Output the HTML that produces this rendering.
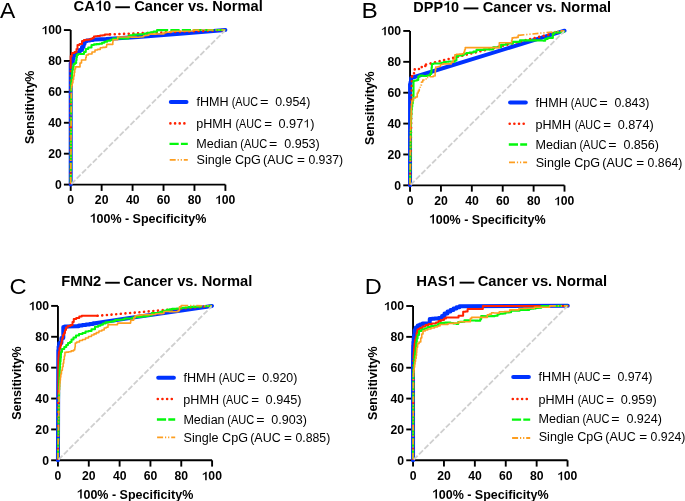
<!DOCTYPE html>
<html><head><meta charset="utf-8"><style>
html,body{margin:0;padding:0;background:#fff;}
svg{display:block;will-change:transform;}
text{font-family:"Liberation Sans", sans-serif;fill:#000;}
</style></head><body>
<svg width="685" height="501" viewBox="0 0 685 501">
<rect width="685" height="501" fill="#fff"/>
<text x="-0.04" y="17.80" font-size="22.0" textLength="15.29" lengthAdjust="spacingAndGlyphs">A</text>
<text x="73.60" y="10.90" font-size="15.0" font-weight="bold" textLength="37.71" lengthAdjust="spacingAndGlyphs">CA 0</text><path d="M855,0L855,1409L690,1409Q620,1290 470,1190Q340,1110 200,1065L200,860Q420,930 605,1075L605,0Z" transform="translate(94.90 10.90) scale(0.00720 -0.00732)"/>
<rect x="115.30" y="6.30" width="14.60" height="1.9" fill="#000"/>
<text x="134.20" y="10.90" font-size="15.0" font-weight="bold" textLength="128.54" lengthAdjust="spacingAndGlyphs">Cancer vs. Normal</text>
<path d="M70.70 30.05 V184.60 H225.40" fill="none" stroke="#000" stroke-width="1.9"/>
<line x1="63.90" y1="184.60" x2="70.70" y2="184.60" stroke="#000" stroke-width="1.9"/>
<line x1="70.70" y1="184.60" x2="70.70" y2="190.90" stroke="#000" stroke-width="1.9"/>
<text x="54.92" y="188.90" font-size="12.2" font-weight="bold" textLength="6.79" lengthAdjust="spacingAndGlyphs">0</text>
<text x="67.32" y="204.00" font-size="12.2" font-weight="bold" textLength="6.79" lengthAdjust="spacingAndGlyphs">0</text>
<line x1="63.90" y1="153.69" x2="70.70" y2="153.69" stroke="#000" stroke-width="1.9"/>
<line x1="101.64" y1="184.60" x2="101.64" y2="190.90" stroke="#000" stroke-width="1.9"/>
<text x="48.13" y="157.99" font-size="12.2" font-weight="bold" textLength="13.57" lengthAdjust="spacingAndGlyphs">20</text>
<text x="94.89" y="204.00" font-size="12.2" font-weight="bold" textLength="13.57" lengthAdjust="spacingAndGlyphs">20</text>
<line x1="63.90" y1="122.78" x2="70.70" y2="122.78" stroke="#000" stroke-width="1.9"/>
<line x1="132.58" y1="184.60" x2="132.58" y2="190.90" stroke="#000" stroke-width="1.9"/>
<text x="48.13" y="127.08" font-size="12.2" font-weight="bold" textLength="13.57" lengthAdjust="spacingAndGlyphs">40</text>
<text x="125.95" y="204.00" font-size="12.2" font-weight="bold" textLength="13.57" lengthAdjust="spacingAndGlyphs">40</text>
<line x1="63.90" y1="91.87" x2="70.70" y2="91.87" stroke="#000" stroke-width="1.9"/>
<line x1="163.52" y1="184.60" x2="163.52" y2="190.90" stroke="#000" stroke-width="1.9"/>
<text x="48.13" y="96.17" font-size="12.2" font-weight="bold" textLength="13.57" lengthAdjust="spacingAndGlyphs">60</text>
<text x="156.76" y="204.00" font-size="12.2" font-weight="bold" textLength="13.57" lengthAdjust="spacingAndGlyphs">60</text>
<line x1="63.90" y1="60.96" x2="70.70" y2="60.96" stroke="#000" stroke-width="1.9"/>
<line x1="194.46" y1="184.60" x2="194.46" y2="190.90" stroke="#000" stroke-width="1.9"/>
<text x="48.13" y="65.26" font-size="12.2" font-weight="bold" textLength="13.57" lengthAdjust="spacingAndGlyphs">80</text>
<text x="187.73" y="204.00" font-size="12.2" font-weight="bold" textLength="13.57" lengthAdjust="spacingAndGlyphs">80</text>
<line x1="63.90" y1="30.05" x2="70.70" y2="30.05" stroke="#000" stroke-width="1.9"/>
<line x1="225.40" y1="184.60" x2="225.40" y2="190.90" stroke="#000" stroke-width="1.9"/>
<text x="41.35" y="34.35" font-size="12.2" font-weight="bold" textLength="20.36" lengthAdjust="spacingAndGlyphs"> 00</text><path d="M855,0L855,1409L690,1409Q620,1290 470,1190Q340,1110 200,1065L200,860Q420,930 605,1075L605,0Z" transform="translate(41.35 34.35) scale(0.00596 -0.00596)"/>
<text x="214.88" y="204.00" font-size="12.2" font-weight="bold" textLength="20.36" lengthAdjust="spacingAndGlyphs"> 00</text><path d="M855,0L855,1409L690,1409Q620,1290 470,1190Q340,1110 200,1065L200,860Q420,930 605,1075L605,0Z" transform="translate(214.88 204.00) scale(0.00596 -0.00596)"/>
<text x="89.53" y="222.80" font-size="13.6" font-weight="bold" textLength="116.75" lengthAdjust="spacingAndGlyphs"> 00% - Specificity%</text><path d="M855,0L855,1409L690,1409Q620,1290 470,1190Q340,1110 200,1065L200,860Q420,930 605,1075L605,0Z" transform="translate(89.53 222.80) scale(0.00611 -0.00664)"/>
<g transform="translate(34.20 107.33) rotate(-90)"><text x="-36.76" y="0.00" font-size="13.4" font-weight="bold" textLength="73.49" lengthAdjust="spacingAndGlyphs">Sensitivity%</text></g>
<polyline points="70.70,184.60 70.70,63.00 71.60,63.00 71.60,62.00 72.50,62.00 72.88,62.00 72.88,58.50 73.62,58.50 73.62,55.00 74.00,55.00 76.00,55.00 76.00,53.00 78.00,53.00 79.50,53.00 79.50,50.00 81.00,50.00 82.00,50.00 82.00,47.00 83.00,47.00 83.50,47.00 83.50,44.00 84.00,44.00 84.50,44.00 84.50,41.20 85.00,41.20 86.67,41.20 86.67,40.60 90.00,40.60 90.00,40.00 93.33,40.00 93.33,39.40 95.00,39.40 106.00,39.10 138.00,36.90 183.00,33.50 225.40,30.00" fill="none" stroke="#0033ff" stroke-width="4.00" stroke-linejoin="round" stroke-linecap="round"/>
<line x1="70.70" y1="183.00" x2="70.70" y2="68.00" stroke="#ff2200" stroke-width="2.60" stroke-linecap="round" stroke-dasharray="0.01 4.65"/>
<polyline points="70.70,68.00 70.70,56.00 71.85,56.00 71.85,53.00 73.00,53.00 74.50,53.00 74.50,52.00 76.00,52.00 76.50,52.00 76.50,49.00 77.00,49.00 77.50,49.00 77.50,45.00 78.00,45.00 79.50,45.00 79.50,44.00 81.00,44.00 82.00,44.00 82.00,41.00 83.00,41.00 84.00,41.00 84.00,40.00 85.00,40.00 86.25,40.00 86.25,39.80 88.75,39.80 88.75,39.60 90.00,39.60 90.75,39.60 90.75,38.80 91.50,38.80 92.50,38.80 92.50,38.00 93.50,38.00 93.90,38.00 93.90,36.50 94.30,36.50 96.00,36.30 97.37,36.30 97.37,35.93 100.10,35.93 100.10,35.57 102.83,35.57 102.83,35.20 104.20,35.20 104.85,35.20 104.85,34.60 105.50,34.60 110.10,34.40" fill="none" stroke="#ff2200" stroke-width="2.00" stroke-linejoin="round" stroke-linecap="round"/>
<line x1="110.10" y1="34.40" x2="225.40" y2="30.00" stroke="#ff2200" stroke-width="2.60" stroke-linecap="round" stroke-dasharray="0.01 4.65"/>
<line x1="70.70" y1="183.00" x2="71.20" y2="84.00" stroke="#04f80c" stroke-width="2.10" stroke-linecap="butt" stroke-dasharray="9.2 2.2"/>
<polyline points="71.20,84.00 71.33,84.00 71.33,81.20 71.59,81.20 71.59,78.40 71.85,78.40 71.85,75.60 72.11,75.60 72.11,72.80 72.37,72.80 72.37,70.00 72.50,70.00 72.88,70.00 72.88,67.00 73.62,67.00 73.62,64.00 74.00,64.00 75.00,64.00 75.00,63.00 76.00,63.00 76.17,63.00 76.17,60.33 76.50,60.33 76.50,57.67 76.83,57.67 76.83,55.00 77.00,55.00 78.00,55.00 78.00,54.00 79.00,54.00 83.00,54.00 84.00,54.00 84.00,52.00 85.00,52.00 85.75,52.00 85.75,49.00 86.50,49.00 88.25,49.00 88.25,47.50 90.00,47.50 91.50,47.50 91.50,45.00 93.00,45.00 94.00,45.00 94.00,44.40 95.00,44.40 96.47,44.40 96.47,44.10 99.43,44.10 99.43,43.80 100.90,43.80 102.05,43.80 102.05,42.80 104.35,42.80 104.35,41.80 105.50,41.80 107.15,41.80 107.15,40.80 110.45,40.80 110.45,39.80 112.10,39.80 113.05,39.80 113.05,38.50 114.00,38.50 127.90,38.50 128.55,38.50 128.55,35.90 129.20,35.90 130.50,35.90 130.50,35.25 133.10,35.25 133.10,34.60 134.40,34.60 135.83,34.60 135.83,34.47 138.70,34.47 138.70,34.33 141.57,34.33 141.57,34.20 143.00,34.20 144.51,34.20 144.51,33.55 147.54,33.55 147.54,32.90 150.56,32.90 150.56,32.25 153.59,32.25 153.59,31.60 155.10,31.60 157.05,31.60 157.05,30.10 159.00,30.10" fill="none" stroke="#04f80c" stroke-width="2.10" stroke-linejoin="round" stroke-linecap="round"/>
<line x1="159.00" y1="30.10" x2="225.40" y2="30.00" stroke="#04f80c" stroke-width="2.10" stroke-linecap="butt" stroke-dasharray="9.2 2.2"/>
<line x1="70.70" y1="183.00" x2="71.40" y2="88.00" stroke="#fd9e20" stroke-width="1.60" stroke-linecap="butt" stroke-dasharray="6 1.9 1.2 1.9 1.2 1.9"/>
<polyline points="71.40,88.00 71.68,88.00 71.68,85.45 72.22,85.45 72.22,82.90 72.50,82.90 72.88,82.90 72.88,79.40 73.62,79.40 73.62,75.90 74.00,75.90 74.25,75.90 74.25,72.40 74.75,72.40 74.75,68.90 75.00,68.90 75.50,68.90 75.50,66.90 76.00,66.90 79.00,66.90 80.00,66.90 80.00,63.00 81.00,63.00 81.50,63.00 81.50,60.00 82.00,60.00 85.50,60.00 85.75,60.00 85.75,57.50 86.25,57.50 86.25,55.00 86.50,55.00 88.25,55.00 88.25,54.00 90.00,54.00 92.00,54.00 92.00,52.00 94.00,52.00 95.00,52.00 95.00,50.00 96.00,50.00 97.50,50.00 97.50,49.40 99.00,49.40 100.30,49.40 100.30,47.70 101.60,47.70 102.82,47.70 102.82,47.40 105.28,47.40 105.28,47.10 106.50,47.10 106.80,44.40 112.70,44.40 112.80,44.40 112.80,42.10 113.00,42.10 113.00,39.80 113.10,39.80 117.30,39.80 117.65,39.80 117.65,36.90 118.00,36.90 119.43,36.90 119.43,36.94 122.29,36.94 122.29,36.99 125.14,36.99 125.14,37.03 128.00,37.03 128.00,37.07 130.86,37.07 130.86,37.11 133.71,37.11 133.71,37.16 136.57,37.16 136.57,37.20 138.00,37.20 139.32,37.20 139.32,37.00 141.98,37.00 141.98,36.80 143.30,36.80 143.60,36.80 143.60,35.80 143.90,35.80 145.05,35.80 145.05,35.50 147.35,35.50 147.35,35.20 148.50,35.20 148.85,35.20 148.85,34.20 149.20,34.20 150.64,34.20 150.64,34.14 153.52,34.14 153.52,34.08 156.40,34.08 156.40,34.02 159.28,34.02 159.28,33.96 162.16,33.96 162.16,33.90 163.60,33.90 163.95,33.90 163.95,32.60 164.30,32.60 166.10,32.60 166.10,32.25 169.70,32.25 169.70,31.90 171.50,31.90 171.85,31.90 171.85,31.20 172.20,31.20 192.60,31.00 192.95,31.00 192.95,30.10 193.30,30.10" fill="none" stroke="#fd9e20" stroke-width="1.60" stroke-linejoin="round" stroke-linecap="round"/>
<line x1="193.30" y1="30.10" x2="225.40" y2="30.00" stroke="#fd9e20" stroke-width="1.60" stroke-linecap="butt" stroke-dasharray="6 1.9 1.2 1.9 1.2 1.9"/>
<line x1="71.30" y1="184.00" x2="224.90" y2="30.55" stroke="#cfcfcf" stroke-width="1.8" stroke-dasharray="5.6 2.0" stroke-linecap="butt"/>
<line x1="170.80" y1="101.90" x2="186.50" y2="101.90" stroke="#0033ff" stroke-width="4" stroke-linecap="round"/>
<line x1="170.40" y1="123.40" x2="185.80" y2="123.40" stroke="#ff2200" stroke-width="2.6" stroke-linecap="round" stroke-dasharray="0.01 4.65"/>
<line x1="169.50" y1="143.85" x2="187.80" y2="143.85" stroke="#04f80c" stroke-width="2.3" stroke-dasharray="9.2 2.2"/>
<line x1="169.70" y1="159.85" x2="187.80" y2="159.85" stroke="#fd9e20" stroke-width="1.9" stroke-dasharray="6 1.9 1.2 1.9 1.2 1.9"/>
<text x="196.42" y="105.80" font-size="12" fill="#1c1c1c" textLength="32.21" lengthAdjust="spacingAndGlyphs">fHMH</text>
<text x="231.63" y="105.80" font-size="12" fill="#1c1c1c" textLength="26.48" lengthAdjust="spacingAndGlyphs">(AUC</text>
<text x="260.09" y="105.80" font-size="12" fill="#1c1c1c" textLength="8.53" lengthAdjust="spacingAndGlyphs">=</text>
<text x="275.22" y="105.80" font-size="12" fill="#1c1c1c" textLength="35.05" lengthAdjust="spacingAndGlyphs">0.954)</text>
<text x="196.29" y="127.60" font-size="12" fill="#1c1c1c" textLength="35.64" lengthAdjust="spacingAndGlyphs">pHMH</text>
<text x="235.43" y="127.60" font-size="12" fill="#1c1c1c" textLength="26.28" lengthAdjust="spacingAndGlyphs">(AUC</text>
<text x="264.15" y="127.60" font-size="12" fill="#1c1c1c" textLength="7.81" lengthAdjust="spacingAndGlyphs">=</text>
<text x="278.50" y="127.60" font-size="12" fill="#1c1c1c" textLength="35.98" lengthAdjust="spacingAndGlyphs">0.97 )</text><path d="M770,0L770,1409L665,1409Q605,1290 475,1190Q355,1100 220,1050L220,880Q420,960 590,1100L590,0Z" transform="translate(303.20 127.60) scale(0.00620 -0.00586)" fill="#1c1c1c"/>
<text x="196.32" y="147.70" font-size="12" fill="#1c1c1c" textLength="41.20" lengthAdjust="spacingAndGlyphs">Median</text>
<text x="240.21" y="147.70" font-size="12" fill="#1c1c1c" textLength="27.01" lengthAdjust="spacingAndGlyphs">(AUC</text>
<text x="269.11" y="147.70" font-size="12" fill="#1c1c1c" textLength="8.29" lengthAdjust="spacingAndGlyphs">=</text>
<text x="284.21" y="147.70" font-size="12" fill="#1c1c1c" textLength="35.57" lengthAdjust="spacingAndGlyphs">0.953)</text>
<text x="196.53" y="164.00" font-size="12" fill="#1c1c1c" textLength="64.31" lengthAdjust="spacingAndGlyphs">Single CpG</text>
<text x="263.13" y="164.00" font-size="12" fill="#1c1c1c" textLength="30.45" lengthAdjust="spacingAndGlyphs">(AUC</text>
<text x="297.04" y="164.00" font-size="12" fill="#1c1c1c" textLength="7.93" lengthAdjust="spacingAndGlyphs">=</text>
<text x="308.42" y="164.00" font-size="12" fill="#1c1c1c" textLength="34.74" lengthAdjust="spacingAndGlyphs">0.937)</text>
<text x="361.50" y="17.80" font-size="22.0" textLength="16.29" lengthAdjust="spacingAndGlyphs">B</text>
<text x="413.33" y="12.05" font-size="15.0" font-weight="bold" textLength="45.76" lengthAdjust="spacingAndGlyphs">DPP 0</text><path d="M855,0L855,1409L690,1409Q620,1290 470,1190Q340,1110 200,1065L200,860Q420,930 605,1075L605,0Z" transform="translate(443.03 12.05) scale(0.00705 -0.00732)"/>
<rect x="463.60" y="7.45" width="14.80" height="1.9" fill="#000"/>
<text x="482.70" y="12.05" font-size="15.0" font-weight="bold" textLength="128.44" lengthAdjust="spacingAndGlyphs">Cancer vs. Normal</text>
<path d="M410.05 30.95 V185.35 H564.50" fill="none" stroke="#000" stroke-width="1.9"/>
<line x1="403.25" y1="185.35" x2="410.05" y2="185.35" stroke="#000" stroke-width="1.9"/>
<line x1="410.05" y1="185.35" x2="410.05" y2="191.65" stroke="#000" stroke-width="1.9"/>
<text x="394.27" y="189.65" font-size="12.2" font-weight="bold" textLength="6.79" lengthAdjust="spacingAndGlyphs">0</text>
<text x="406.67" y="205.25" font-size="12.2" font-weight="bold" textLength="6.79" lengthAdjust="spacingAndGlyphs">0</text>
<line x1="403.25" y1="154.47" x2="410.05" y2="154.47" stroke="#000" stroke-width="1.9"/>
<line x1="440.94" y1="185.35" x2="440.94" y2="191.65" stroke="#000" stroke-width="1.9"/>
<text x="387.48" y="158.77" font-size="12.2" font-weight="bold" textLength="13.57" lengthAdjust="spacingAndGlyphs">20</text>
<text x="434.19" y="205.25" font-size="12.2" font-weight="bold" textLength="13.57" lengthAdjust="spacingAndGlyphs">20</text>
<line x1="403.25" y1="123.59" x2="410.05" y2="123.59" stroke="#000" stroke-width="1.9"/>
<line x1="471.83" y1="185.35" x2="471.83" y2="191.65" stroke="#000" stroke-width="1.9"/>
<text x="387.48" y="127.89" font-size="12.2" font-weight="bold" textLength="13.57" lengthAdjust="spacingAndGlyphs">40</text>
<text x="465.20" y="205.25" font-size="12.2" font-weight="bold" textLength="13.57" lengthAdjust="spacingAndGlyphs">40</text>
<line x1="403.25" y1="92.71" x2="410.05" y2="92.71" stroke="#000" stroke-width="1.9"/>
<line x1="502.72" y1="185.35" x2="502.72" y2="191.65" stroke="#000" stroke-width="1.9"/>
<text x="387.48" y="97.01" font-size="12.2" font-weight="bold" textLength="13.57" lengthAdjust="spacingAndGlyphs">60</text>
<text x="495.96" y="205.25" font-size="12.2" font-weight="bold" textLength="13.57" lengthAdjust="spacingAndGlyphs">60</text>
<line x1="403.25" y1="61.83" x2="410.05" y2="61.83" stroke="#000" stroke-width="1.9"/>
<line x1="533.61" y1="185.35" x2="533.61" y2="191.65" stroke="#000" stroke-width="1.9"/>
<text x="387.48" y="66.13" font-size="12.2" font-weight="bold" textLength="13.57" lengthAdjust="spacingAndGlyphs">80</text>
<text x="526.88" y="205.25" font-size="12.2" font-weight="bold" textLength="13.57" lengthAdjust="spacingAndGlyphs">80</text>
<line x1="403.25" y1="30.95" x2="410.05" y2="30.95" stroke="#000" stroke-width="1.9"/>
<line x1="564.50" y1="185.35" x2="564.50" y2="191.65" stroke="#000" stroke-width="1.9"/>
<text x="380.70" y="35.25" font-size="12.2" font-weight="bold" textLength="20.36" lengthAdjust="spacingAndGlyphs"> 00</text><path d="M855,0L855,1409L690,1409Q620,1290 470,1190Q340,1110 200,1065L200,860Q420,930 605,1075L605,0Z" transform="translate(380.70 35.25) scale(0.00596 -0.00596)"/>
<text x="553.98" y="205.25" font-size="12.2" font-weight="bold" textLength="20.36" lengthAdjust="spacingAndGlyphs"> 00</text><path d="M855,0L855,1409L690,1409Q620,1290 470,1190Q340,1110 200,1065L200,860Q420,930 605,1075L605,0Z" transform="translate(553.98 205.25) scale(0.00596 -0.00596)"/>
<text x="428.75" y="223.55" font-size="13.6" font-weight="bold" textLength="116.75" lengthAdjust="spacingAndGlyphs"> 00% - Specificity%</text><path d="M855,0L855,1409L690,1409Q620,1290 470,1190Q340,1110 200,1065L200,860Q420,930 605,1075L605,0Z" transform="translate(428.75 223.55) scale(0.00611 -0.00664)"/>
<g transform="translate(373.55 108.15) rotate(-90)"><text x="-36.76" y="0.00" font-size="13.4" font-weight="bold" textLength="73.49" lengthAdjust="spacingAndGlyphs">Sensitivity%</text></g>
<polyline points="410.05,185.35 410.05,84.00 410.52,84.00 410.52,82.00 411.00,82.00 411.20,78.00 564.50,30.70" fill="none" stroke="#0033ff" stroke-width="4.00" stroke-linejoin="round" stroke-linecap="round"/>
<line x1="410.05" y1="183.75" x2="412.00" y2="76.00" stroke="#ff2200" stroke-width="2.60" stroke-linecap="round" stroke-dasharray="0.01 4.65"/>
<polyline points="412.00,76.00 412.75,76.00 412.75,74.00 413.50,74.00 414.00,74.00 414.00,72.00 414.50,72.00 414.75,72.00 414.75,69.00 415.00,69.00 418.00,69.00 419.50,69.00 419.50,68.00 421.00,68.00 421.75,68.00 421.75,67.00 422.50,67.00 423.75,67.00 423.75,66.00 425.00,66.00 425.50,66.00 425.50,64.50 426.00,64.50" fill="none" stroke="#ff2200" stroke-width="2.60" stroke-linejoin="round" stroke-linecap="round" stroke-dasharray="0.01 4.65"/>
<line x1="426.00" y1="64.50" x2="564.50" y2="30.70" stroke="#ff2200" stroke-width="2.60" stroke-linecap="round" stroke-dasharray="0.01 4.65"/>
<line x1="410.05" y1="183.75" x2="411.00" y2="120.00" stroke="#04f80c" stroke-width="2.10" stroke-linecap="butt" stroke-dasharray="9.2 2.2"/>
<polyline points="411.00,120.00 411.08,120.00 411.08,116.67 411.25,116.67 411.25,113.33 411.42,113.33 411.42,110.00 411.50,110.00 411.75,110.00 411.75,106.75 412.25,106.75 412.25,103.50 412.75,103.50 412.75,100.25 413.25,100.25 413.25,97.00 413.50,97.00 413.50,81.00 414.75,81.00 414.75,80.50 416.00,80.50 417.00,80.50 417.00,80.00 418.00,80.00 418.25,80.00 418.25,76.50 418.50,76.50 419.75,76.50 419.75,75.50 421.00,75.50 423.00,75.50 423.00,76.00 425.00,76.00 427.00,76.00 427.00,75.50 429.00,75.50 430.00,75.50 430.00,74.00 431.00,74.00 431.25,74.00 431.25,71.00 431.50,71.00 431.62,71.00 431.62,67.50 431.88,67.50 431.88,64.00 432.00,64.00 433.50,64.00 433.50,63.50 435.00,63.50 440.00,63.50 441.25,63.50 441.25,62.75 443.75,62.75 443.75,62.00 445.00,62.00 446.25,62.00 446.25,61.75 448.75,61.75 448.75,61.50 450.00,61.50 453.80,61.70 454.65,61.70 454.65,60.40 455.50,60.40 456.40,60.40 456.40,56.00 457.30,56.00 458.60,56.00 458.60,55.55 461.20,55.55 461.20,55.10 462.50,55.10 463.80,55.10 463.80,53.80 465.10,53.80 466.45,53.80 466.45,53.00 467.80,53.00 469.55,53.00 469.55,52.50 471.30,52.50 473.45,52.50 473.45,51.60 475.60,51.60 476.50,51.60 476.50,49.90 477.40,49.90 481.80,49.90 483.55,49.90 483.55,49.40 485.30,49.40 492.30,49.40 493.15,49.40 493.15,47.30 494.00,47.30 500.20,47.30 501.05,47.30 501.05,44.80 501.90,44.80 506.00,44.80 506.00,43.40 511.90,43.40 512.90,43.40 512.90,41.90 513.90,41.90 519.90,41.90 519.90,40.40 539.00,40.40 540.42,40.40 540.42,40.55 543.28,40.55 543.28,40.70 544.70,40.70 545.20,40.70 545.20,38.90 545.70,38.90 547.70,38.90 547.70,37.90 549.70,37.90 552.60,37.90 552.85,37.90 552.85,33.90 553.10,33.90 554.35,33.90 554.35,32.40 555.60,32.40" fill="none" stroke="#04f80c" stroke-width="2.10" stroke-linejoin="round" stroke-linecap="round"/>
<line x1="555.60" y1="32.40" x2="563.60" y2="32.40" stroke="#04f80c" stroke-width="2.10" stroke-linecap="butt" stroke-dasharray="9.2 2.2"/>
<line x1="563.60" y1="32.40" x2="564.50" y2="30.70" stroke="#04f80c" stroke-width="2.10" stroke-linecap="butt" stroke-dasharray="9.2 2.2"/>
<line x1="410.05" y1="183.75" x2="410.60" y2="130.00" stroke="#fd9e20" stroke-width="1.60" stroke-linecap="butt" stroke-dasharray="6 1.9 1.2 1.9 1.2 1.9"/>
<polyline points="410.60,130.00 411.50,105.00 411.75,105.00 411.75,101.00 412.00,101.00 413.00,101.00 413.00,98.00 414.00,98.00 415.50,98.00 415.50,97.00 417.00,97.00 417.25,97.00 417.25,93.00 417.50,93.00" fill="none" stroke="#fd9e20" stroke-width="1.60" stroke-linejoin="round" stroke-linecap="round"/>
<polyline points="417.50,93.00 418.25,93.00 418.25,91.00 419.00,91.00 419.25,91.00 419.25,88.00 419.50,88.00 420.25,88.00 420.25,85.00 421.00,85.00 421.50,85.00 421.50,82.00 422.00,82.00 422.75,82.00 422.75,80.00 423.50,80.00 424.75,80.00 424.75,79.00 426.00,79.00 427.00,79.00 427.00,77.50 428.00,77.50 429.75,77.50 429.75,76.75 433.25,76.75 433.25,76.00 435.00,76.00" fill="none" stroke="#fd9e20" stroke-width="1.60" stroke-linejoin="round" stroke-linecap="butt" stroke-dasharray="6 1.9 1.2 1.9 1.2 1.9"/>
<polyline points="435.00,76.00 435.10,76.00 435.10,73.00 435.30,73.00 435.30,70.00 435.40,70.00 435.70,70.00 435.70,67.00 436.00,67.00 438.00,67.00 438.00,66.50 440.00,66.50 440.50,66.50 440.50,64.50 441.00,64.50 443.00,64.50 443.00,63.90 445.00,63.90 451.00,63.90 451.30,63.90 451.30,62.10 451.60,62.10 453.10,62.10 453.10,59.50 454.60,59.50 454.70,59.50 454.70,57.10 454.90,57.10 454.90,54.70 455.00,54.70 456.40,54.70 456.40,54.40 459.20,54.40 459.20,54.10 462.00,54.10 462.00,53.80 463.40,53.80 463.85,53.80 463.85,52.10 464.30,52.10 464.62,52.10 464.62,49.85 465.28,49.85 465.28,47.60 465.60,47.60 499.30,47.60 499.30,42.80 511.40,42.70 511.65,42.70 511.65,40.30 512.15,40.30 512.15,37.90 512.40,37.90 513.77,37.90 513.77,37.65 516.52,37.65 516.52,37.40 517.90,37.40 518.15,37.40 518.15,35.40 518.40,35.40" fill="none" stroke="#fd9e20" stroke-width="1.60" stroke-linejoin="round" stroke-linecap="round"/>
<line x1="518.40" y1="35.40" x2="564.50" y2="30.70" stroke="#fd9e20" stroke-width="1.60" stroke-linecap="butt" stroke-dasharray="6 1.9 1.2 1.9 1.2 1.9"/>
<line x1="410.65" y1="184.75" x2="564.00" y2="31.45" stroke="#cfcfcf" stroke-width="1.8" stroke-dasharray="5.6 2.0" stroke-linecap="butt"/>
<line x1="510.10" y1="102.50" x2="525.80" y2="102.50" stroke="#0033ff" stroke-width="4" stroke-linecap="round"/>
<line x1="509.70" y1="123.80" x2="525.10" y2="123.80" stroke="#ff2200" stroke-width="2.6" stroke-linecap="round" stroke-dasharray="0.01 4.65"/>
<line x1="508.80" y1="144.50" x2="527.10" y2="144.50" stroke="#04f80c" stroke-width="2.3" stroke-dasharray="9.2 2.2"/>
<line x1="509.00" y1="162.40" x2="527.10" y2="162.40" stroke="#fd9e20" stroke-width="1.9" stroke-dasharray="6 1.9 1.2 1.9 1.2 1.9"/>
<text x="535.62" y="106.60" font-size="12" fill="#1c1c1c" textLength="32.21" lengthAdjust="spacingAndGlyphs">fHMH</text>
<text x="570.83" y="106.60" font-size="12" fill="#1c1c1c" textLength="26.48" lengthAdjust="spacingAndGlyphs">(AUC</text>
<text x="599.29" y="106.60" font-size="12" fill="#1c1c1c" textLength="8.53" lengthAdjust="spacingAndGlyphs">=</text>
<text x="614.42" y="106.60" font-size="12" fill="#1c1c1c" textLength="35.05" lengthAdjust="spacingAndGlyphs">0.843)</text>
<text x="535.49" y="128.50" font-size="12" fill="#1c1c1c" textLength="35.64" lengthAdjust="spacingAndGlyphs">pHMH</text>
<text x="574.63" y="128.50" font-size="12" fill="#1c1c1c" textLength="26.28" lengthAdjust="spacingAndGlyphs">(AUC</text>
<text x="603.35" y="128.50" font-size="12" fill="#1c1c1c" textLength="7.81" lengthAdjust="spacingAndGlyphs">=</text>
<text x="617.70" y="128.50" font-size="12" fill="#1c1c1c" textLength="35.98" lengthAdjust="spacingAndGlyphs">0.874)</text>
<text x="535.52" y="148.90" font-size="12" fill="#1c1c1c" textLength="41.20" lengthAdjust="spacingAndGlyphs">Median</text>
<text x="579.41" y="148.90" font-size="12" fill="#1c1c1c" textLength="27.01" lengthAdjust="spacingAndGlyphs">(AUC</text>
<text x="608.31" y="148.90" font-size="12" fill="#1c1c1c" textLength="8.29" lengthAdjust="spacingAndGlyphs">=</text>
<text x="623.41" y="148.90" font-size="12" fill="#1c1c1c" textLength="35.57" lengthAdjust="spacingAndGlyphs">0.856)</text>
<text x="535.73" y="166.70" font-size="12" fill="#1c1c1c" textLength="64.31" lengthAdjust="spacingAndGlyphs">Single CpG</text>
<text x="602.33" y="166.70" font-size="12" fill="#1c1c1c" textLength="30.45" lengthAdjust="spacingAndGlyphs">(AUC</text>
<text x="636.24" y="166.70" font-size="12" fill="#1c1c1c" textLength="7.93" lengthAdjust="spacingAndGlyphs">=</text>
<text x="647.62" y="166.70" font-size="12" fill="#1c1c1c" textLength="34.74" lengthAdjust="spacingAndGlyphs">0.864)</text>
<text x="9.50" y="294.00" font-size="22.6" textLength="17.10" lengthAdjust="spacingAndGlyphs">C</text>
<text x="61.22" y="286.40" font-size="15.0" font-weight="bold" textLength="39.97" lengthAdjust="spacingAndGlyphs">FMN2</text>
<rect x="105.20" y="281.80" width="14.60" height="1.9" fill="#000"/>
<text x="123.30" y="286.40" font-size="15.0" font-weight="bold" textLength="128.94" lengthAdjust="spacingAndGlyphs">Cancer vs. Normal</text>
<path d="M57.95 305.90 V460.30 H212.10" fill="none" stroke="#000" stroke-width="1.9"/>
<line x1="51.15" y1="460.30" x2="57.95" y2="460.30" stroke="#000" stroke-width="1.9"/>
<line x1="57.95" y1="460.30" x2="57.95" y2="466.60" stroke="#000" stroke-width="1.9"/>
<text x="42.17" y="464.60" font-size="12.2" font-weight="bold" textLength="6.79" lengthAdjust="spacingAndGlyphs">0</text>
<text x="54.57" y="480.20" font-size="12.2" font-weight="bold" textLength="6.79" lengthAdjust="spacingAndGlyphs">0</text>
<line x1="51.15" y1="429.42" x2="57.95" y2="429.42" stroke="#000" stroke-width="1.9"/>
<line x1="88.78" y1="460.30" x2="88.78" y2="466.60" stroke="#000" stroke-width="1.9"/>
<text x="35.38" y="433.72" font-size="12.2" font-weight="bold" textLength="13.57" lengthAdjust="spacingAndGlyphs">20</text>
<text x="82.03" y="480.20" font-size="12.2" font-weight="bold" textLength="13.57" lengthAdjust="spacingAndGlyphs">20</text>
<line x1="51.15" y1="398.54" x2="57.95" y2="398.54" stroke="#000" stroke-width="1.9"/>
<line x1="119.61" y1="460.30" x2="119.61" y2="466.60" stroke="#000" stroke-width="1.9"/>
<text x="35.38" y="402.84" font-size="12.2" font-weight="bold" textLength="13.57" lengthAdjust="spacingAndGlyphs">40</text>
<text x="112.98" y="480.20" font-size="12.2" font-weight="bold" textLength="13.57" lengthAdjust="spacingAndGlyphs">40</text>
<line x1="51.15" y1="367.66" x2="57.95" y2="367.66" stroke="#000" stroke-width="1.9"/>
<line x1="150.44" y1="460.30" x2="150.44" y2="466.60" stroke="#000" stroke-width="1.9"/>
<text x="35.38" y="371.96" font-size="12.2" font-weight="bold" textLength="13.57" lengthAdjust="spacingAndGlyphs">60</text>
<text x="143.68" y="480.20" font-size="12.2" font-weight="bold" textLength="13.57" lengthAdjust="spacingAndGlyphs">60</text>
<line x1="51.15" y1="336.78" x2="57.95" y2="336.78" stroke="#000" stroke-width="1.9"/>
<line x1="181.27" y1="460.30" x2="181.27" y2="466.60" stroke="#000" stroke-width="1.9"/>
<text x="35.38" y="341.08" font-size="12.2" font-weight="bold" textLength="13.57" lengthAdjust="spacingAndGlyphs">80</text>
<text x="174.54" y="480.20" font-size="12.2" font-weight="bold" textLength="13.57" lengthAdjust="spacingAndGlyphs">80</text>
<line x1="51.15" y1="305.90" x2="57.95" y2="305.90" stroke="#000" stroke-width="1.9"/>
<line x1="212.10" y1="460.30" x2="212.10" y2="466.60" stroke="#000" stroke-width="1.9"/>
<text x="28.60" y="310.20" font-size="12.2" font-weight="bold" textLength="20.36" lengthAdjust="spacingAndGlyphs"> 00</text><path d="M855,0L855,1409L690,1409Q620,1290 470,1190Q340,1110 200,1065L200,860Q420,930 605,1075L605,0Z" transform="translate(28.60 310.20) scale(0.00596 -0.00596)"/>
<text x="201.58" y="480.20" font-size="12.2" font-weight="bold" textLength="20.36" lengthAdjust="spacingAndGlyphs"> 00</text><path d="M855,0L855,1409L690,1409Q620,1290 470,1190Q340,1110 200,1065L200,860Q420,930 605,1075L605,0Z" transform="translate(201.58 480.20) scale(0.00596 -0.00596)"/>
<text x="76.50" y="498.50" font-size="13.6" font-weight="bold" textLength="116.75" lengthAdjust="spacingAndGlyphs"> 00% - Specificity%</text><path d="M855,0L855,1409L690,1409Q620,1290 470,1190Q340,1110 200,1065L200,860Q420,930 605,1075L605,0Z" transform="translate(76.50 498.50) scale(0.00611 -0.00664)"/>
<g transform="translate(21.45 383.10) rotate(-90)"><text x="-36.76" y="0.00" font-size="13.4" font-weight="bold" textLength="73.49" lengthAdjust="spacingAndGlyphs">Sensitivity%</text></g>
<polyline points="57.95,460.30 58.30,350.00 58.60,350.00 58.60,346.50 59.20,346.50 59.20,343.00 59.50,343.00 61.40,343.00 61.40,338.00 63.30,338.00 63.30,327.00 64.65,327.00 64.65,326.40 66.00,326.40 77.00,326.20 78.80,326.20 78.80,325.62 82.40,325.62 82.40,325.04 86.00,325.04 86.00,324.46 89.60,324.46 89.60,323.88 93.20,323.88 93.20,323.30 95.00,323.30 138.00,316.70 183.00,310.30 212.00,305.90" fill="none" stroke="#0033ff" stroke-width="4.00" stroke-linejoin="round" stroke-linecap="round"/>
<line x1="57.95" y1="458.70" x2="58.30" y2="395.00" stroke="#ff2200" stroke-width="2.60" stroke-linecap="round" stroke-dasharray="0.01 4.65"/>
<polyline points="58.30,395.00 58.30,360.00 58.42,360.00 58.42,357.33 58.65,357.33 58.65,354.67 58.88,354.67 58.88,352.00 59.00,352.00 59.50,352.00 59.50,348.00 60.00,348.00 60.38,348.00 60.38,345.50 61.12,345.50 61.12,343.00 61.50,343.00 61.75,343.00 61.75,340.50 62.25,340.50 62.25,338.00 62.50,338.00 63.00,338.00 63.00,335.00 63.50,335.00 64.00,335.00 64.00,333.00 64.50,333.00 65.00,333.00 65.00,330.00 65.50,330.00 66.00,330.00 66.00,327.50 66.50,327.50 67.75,327.50 67.75,326.00 69.00,326.00 70.50,326.00 70.50,325.00 72.00,325.00 72.50,325.00 72.50,322.00 73.00,322.00 73.75,322.00 73.75,319.00 74.50,319.00 76.25,319.00 76.25,318.00 78.00,318.00 79.25,318.00 79.25,316.50 80.50,316.50 81.75,316.50 81.75,315.70 83.00,315.70 97.60,315.80" fill="none" stroke="#ff2200" stroke-width="2.00" stroke-linejoin="round" stroke-linecap="round"/>
<line x1="97.60" y1="315.80" x2="212.00" y2="305.90" stroke="#ff2200" stroke-width="2.60" stroke-linecap="round" stroke-dasharray="0.01 4.65"/>
<line x1="57.95" y1="458.70" x2="59.20" y2="386.00" stroke="#04f80c" stroke-width="2.10" stroke-linecap="butt" stroke-dasharray="9.2 2.2"/>
<polyline points="59.20,386.00 59.25,386.00 59.25,383.00 59.35,383.00 59.35,380.00 59.45,380.00 59.45,377.00 59.55,377.00 59.55,374.00 59.65,374.00 59.65,371.00 59.75,371.00 59.75,368.00 59.80,368.00 59.95,368.00 59.95,364.70 60.25,364.70 60.25,361.40 60.55,361.40 60.55,358.10 60.85,358.10 60.85,354.80 61.00,354.80 61.00,352.00 62.00,352.00 62.00,349.00 63.00,349.00 64.25,349.00 64.25,347.00 65.50,347.00 66.25,347.00 66.25,345.00 67.00,345.00 68.00,345.00 68.00,343.00 69.00,343.00 70.00,343.00 70.00,342.00 71.00,342.00 71.50,342.00 71.50,339.50 72.00,339.50 73.50,339.50 73.50,337.50 75.00,337.50 76.00,337.50 76.00,335.50 77.00,335.50 79.00,335.50 79.00,334.00 81.00,334.00 82.50,334.00 82.50,333.00 84.00,333.00 85.50,333.00 85.50,331.50 87.00,331.50 88.50,331.50 88.50,331.00 90.00,331.00 91.50,331.00 91.50,329.30 93.00,329.30 95.00,329.30 95.00,326.70 97.00,326.70 98.15,326.70 98.15,325.70 100.45,325.70 100.45,324.70 101.60,324.70 102.90,324.70 102.90,323.55 105.50,323.55 105.50,322.40 106.80,322.40 108.12,322.40 108.12,321.97 110.75,321.97 110.75,321.53 113.38,321.53 113.38,321.10 114.70,321.10 115.05,321.10 115.05,320.10 115.40,320.10 116.82,320.10 116.82,319.90 119.65,319.90 119.65,319.70 122.48,319.70 122.48,319.50 123.90,319.50 124.25,319.50 124.25,318.50 124.60,318.50 131.80,318.50 132.45,318.50 132.45,317.50 133.10,317.50 134.57,317.50 134.57,317.27 137.50,317.27 137.50,317.03 140.43,317.03 140.43,316.80 141.90,316.80 143.22,316.80 143.22,316.33 145.85,316.33 145.85,315.87 148.48,315.87 148.48,315.40 149.80,315.40 151.80,315.40 151.80,313.10 153.80,313.10 155.10,313.10 155.10,312.95 157.70,312.95 157.70,312.80 159.00,312.80 160.53,312.80 160.53,311.83 163.60,311.83 163.60,310.87 166.67,310.87 166.67,309.90 168.20,309.90 169.52,309.90 169.52,309.40 172.18,309.40 172.18,308.90 173.50,308.90 174.80,308.90 174.80,308.70 177.40,308.70 177.40,308.50 178.70,308.50 179.90,308.50 179.90,308.10 182.30,308.10 182.30,307.70 183.50,307.70 185.08,307.70 185.08,307.43 188.25,307.43 188.25,307.17 191.42,307.17 191.42,306.90 193.00,306.90" fill="none" stroke="#04f80c" stroke-width="2.10" stroke-linejoin="round" stroke-linecap="round"/>
<line x1="193.00" y1="306.90" x2="212.00" y2="305.90" stroke="#04f80c" stroke-width="2.10" stroke-linecap="butt" stroke-dasharray="9.2 2.2"/>
<line x1="57.95" y1="458.70" x2="59.20" y2="393.00" stroke="#fd9e20" stroke-width="1.60" stroke-linecap="butt" stroke-dasharray="6 1.9 1.2 1.9 1.2 1.9"/>
<polyline points="59.20,393.00 59.30,393.00 59.30,389.83 59.50,389.83 59.50,386.67 59.70,386.67 59.70,383.50 59.80,383.50 60.00,383.50 60.00,380.33 60.40,380.33 60.40,377.17 60.80,377.17 60.80,374.00 61.00,374.00 61.45,374.00 61.45,370.35 62.35,370.35 62.35,366.70 62.80,366.70 63.10,366.70 63.10,363.15 63.70,363.15 63.70,359.60 64.00,359.60 64.30,359.60 64.30,356.00 64.90,356.00 64.90,352.40 65.20,352.40 66.40,352.40 66.40,352.10 68.80,352.10 68.80,351.80 70.00,351.80 71.17,351.80 71.17,350.90 73.53,350.90 73.53,350.00 74.70,350.00 75.00,347.00 75.25,347.00 75.25,343.00 75.50,343.00 76.75,343.00 76.75,342.00 78.00,342.00 79.50,342.00 79.50,340.50 81.00,340.50 82.50,340.50 82.50,339.50 84.00,339.50 85.50,339.50 85.50,338.00 87.00,338.00 88.50,338.00 88.50,336.50 90.00,336.50 91.50,336.50 91.50,335.00 93.00,335.00 94.00,335.00 94.00,333.90 95.00,333.90 96.30,333.90 96.30,332.60 97.60,332.60 98.95,332.60 98.95,331.00 100.30,331.00 101.90,331.00 101.90,330.00 103.50,330.00 104.20,330.00 104.20,328.00 104.90,328.00 106.20,328.00 106.20,327.30 107.50,327.30 108.00,327.30 108.00,324.50 108.50,324.50 117.30,324.70 117.50,324.70 117.50,323.10 117.70,323.10 130.50,323.10 130.65,323.10 130.65,320.40 130.80,320.40 133.10,320.10 133.75,320.10 133.75,317.80 134.40,317.80 135.05,317.80 135.05,315.80 135.70,315.80 136.97,315.80 136.97,315.47 139.50,315.47 139.50,315.13 142.03,315.13 142.03,314.80 143.30,314.80 144.61,314.80 144.61,314.73 147.24,314.73 147.24,314.65 149.86,314.65 149.86,314.57 152.49,314.57 152.49,314.50 153.80,314.50 155.75,314.50 155.75,313.80 157.70,313.80 159.17,313.80 159.17,313.65 162.12,313.65 162.12,313.50 163.60,313.50 163.95,313.50 163.95,311.50 164.30,311.50 165.94,311.50 165.94,311.57 169.21,311.57 169.21,311.65 172.49,311.65 172.49,311.73 175.76,311.73 175.76,311.80 177.40,311.80 178.05,311.80 178.05,310.80 178.70,310.80 179.45,310.80 179.45,306.90 180.20,306.90 181.20,306.90 181.20,305.50 182.20,305.50" fill="none" stroke="#fd9e20" stroke-width="1.60" stroke-linejoin="round" stroke-linecap="round"/>
<line x1="182.20" y1="305.50" x2="212.00" y2="305.80" stroke="#fd9e20" stroke-width="1.60" stroke-linecap="butt" stroke-dasharray="6 1.9 1.2 1.9 1.2 1.9"/>
<line x1="58.55" y1="459.70" x2="211.60" y2="306.40" stroke="#cfcfcf" stroke-width="1.8" stroke-dasharray="5.6 2.0" stroke-linecap="butt"/>
<line x1="158.20" y1="377.80" x2="173.90" y2="377.80" stroke="#0033ff" stroke-width="4" stroke-linecap="round"/>
<line x1="157.80" y1="399.00" x2="173.20" y2="399.00" stroke="#ff2200" stroke-width="2.6" stroke-linecap="round" stroke-dasharray="0.01 4.65"/>
<line x1="156.90" y1="419.50" x2="175.20" y2="419.50" stroke="#04f80c" stroke-width="2.3" stroke-dasharray="9.2 2.2"/>
<line x1="157.10" y1="437.40" x2="175.20" y2="437.40" stroke="#fd9e20" stroke-width="1.9" stroke-dasharray="6 1.9 1.2 1.9 1.2 1.9"/>
<text x="183.52" y="381.80" font-size="12" fill="#1c1c1c" textLength="32.21" lengthAdjust="spacingAndGlyphs">fHMH</text>
<text x="218.73" y="381.80" font-size="12" fill="#1c1c1c" textLength="26.48" lengthAdjust="spacingAndGlyphs">(AUC</text>
<text x="247.19" y="381.80" font-size="12" fill="#1c1c1c" textLength="8.53" lengthAdjust="spacingAndGlyphs">=</text>
<text x="262.32" y="381.80" font-size="12" fill="#1c1c1c" textLength="35.05" lengthAdjust="spacingAndGlyphs">0.920)</text>
<text x="183.39" y="404.10" font-size="12" fill="#1c1c1c" textLength="35.64" lengthAdjust="spacingAndGlyphs">pHMH</text>
<text x="222.53" y="404.10" font-size="12" fill="#1c1c1c" textLength="26.28" lengthAdjust="spacingAndGlyphs">(AUC</text>
<text x="251.25" y="404.10" font-size="12" fill="#1c1c1c" textLength="7.81" lengthAdjust="spacingAndGlyphs">=</text>
<text x="265.60" y="404.10" font-size="12" fill="#1c1c1c" textLength="35.98" lengthAdjust="spacingAndGlyphs">0.945)</text>
<text x="183.42" y="423.90" font-size="12" fill="#1c1c1c" textLength="41.20" lengthAdjust="spacingAndGlyphs">Median</text>
<text x="227.31" y="423.90" font-size="12" fill="#1c1c1c" textLength="27.01" lengthAdjust="spacingAndGlyphs">(AUC</text>
<text x="256.21" y="423.90" font-size="12" fill="#1c1c1c" textLength="8.29" lengthAdjust="spacingAndGlyphs">=</text>
<text x="271.31" y="423.90" font-size="12" fill="#1c1c1c" textLength="35.57" lengthAdjust="spacingAndGlyphs">0.903)</text>
<text x="183.63" y="441.70" font-size="12" fill="#1c1c1c" textLength="64.31" lengthAdjust="spacingAndGlyphs">Single CpG</text>
<text x="250.23" y="441.70" font-size="12" fill="#1c1c1c" textLength="30.45" lengthAdjust="spacingAndGlyphs">(AUC</text>
<text x="284.14" y="441.70" font-size="12" fill="#1c1c1c" textLength="7.93" lengthAdjust="spacingAndGlyphs">=</text>
<text x="295.52" y="441.70" font-size="12" fill="#1c1c1c" textLength="34.74" lengthAdjust="spacingAndGlyphs">0.885)</text>
<text x="364.76" y="294.20" font-size="22.6" textLength="17.07" lengthAdjust="spacingAndGlyphs">D</text>
<text x="416.21" y="286.30" font-size="15.0" font-weight="bold" textLength="39.66" lengthAdjust="spacingAndGlyphs">HAS </text><path d="M855,0L855,1409L690,1409Q620,1290 470,1190Q340,1110 200,1065L200,860Q420,930 605,1075L605,0Z" transform="translate(447.59 286.30) scale(0.00726 -0.00732)"/>
<rect x="459.60" y="281.70" width="14.70" height="1.9" fill="#000"/>
<text x="477.70" y="286.30" font-size="15.0" font-weight="bold" textLength="129.35" lengthAdjust="spacingAndGlyphs">Cancer vs. Normal</text>
<path d="M413.05 306.00 V460.30 H567.55" fill="none" stroke="#000" stroke-width="1.9"/>
<line x1="406.25" y1="460.30" x2="413.05" y2="460.30" stroke="#000" stroke-width="1.9"/>
<line x1="413.05" y1="460.30" x2="413.05" y2="466.60" stroke="#000" stroke-width="1.9"/>
<text x="397.27" y="464.60" font-size="12.2" font-weight="bold" textLength="6.79" lengthAdjust="spacingAndGlyphs">0</text>
<text x="409.67" y="480.20" font-size="12.2" font-weight="bold" textLength="6.79" lengthAdjust="spacingAndGlyphs">0</text>
<line x1="406.25" y1="429.44" x2="413.05" y2="429.44" stroke="#000" stroke-width="1.9"/>
<line x1="443.95" y1="460.30" x2="443.95" y2="466.60" stroke="#000" stroke-width="1.9"/>
<text x="390.48" y="433.74" font-size="12.2" font-weight="bold" textLength="13.57" lengthAdjust="spacingAndGlyphs">20</text>
<text x="437.20" y="480.20" font-size="12.2" font-weight="bold" textLength="13.57" lengthAdjust="spacingAndGlyphs">20</text>
<line x1="406.25" y1="398.58" x2="413.05" y2="398.58" stroke="#000" stroke-width="1.9"/>
<line x1="474.85" y1="460.30" x2="474.85" y2="466.60" stroke="#000" stroke-width="1.9"/>
<text x="390.48" y="402.88" font-size="12.2" font-weight="bold" textLength="13.57" lengthAdjust="spacingAndGlyphs">40</text>
<text x="468.22" y="480.20" font-size="12.2" font-weight="bold" textLength="13.57" lengthAdjust="spacingAndGlyphs">40</text>
<line x1="406.25" y1="367.72" x2="413.05" y2="367.72" stroke="#000" stroke-width="1.9"/>
<line x1="505.75" y1="460.30" x2="505.75" y2="466.60" stroke="#000" stroke-width="1.9"/>
<text x="390.48" y="372.02" font-size="12.2" font-weight="bold" textLength="13.57" lengthAdjust="spacingAndGlyphs">60</text>
<text x="498.99" y="480.20" font-size="12.2" font-weight="bold" textLength="13.57" lengthAdjust="spacingAndGlyphs">60</text>
<line x1="406.25" y1="336.86" x2="413.05" y2="336.86" stroke="#000" stroke-width="1.9"/>
<line x1="536.65" y1="460.30" x2="536.65" y2="466.60" stroke="#000" stroke-width="1.9"/>
<text x="390.48" y="341.16" font-size="12.2" font-weight="bold" textLength="13.57" lengthAdjust="spacingAndGlyphs">80</text>
<text x="529.92" y="480.20" font-size="12.2" font-weight="bold" textLength="13.57" lengthAdjust="spacingAndGlyphs">80</text>
<line x1="406.25" y1="306.00" x2="413.05" y2="306.00" stroke="#000" stroke-width="1.9"/>
<line x1="567.55" y1="460.30" x2="567.55" y2="466.60" stroke="#000" stroke-width="1.9"/>
<text x="383.70" y="310.30" font-size="12.2" font-weight="bold" textLength="20.36" lengthAdjust="spacingAndGlyphs"> 00</text><path d="M855,0L855,1409L690,1409Q620,1290 470,1190Q340,1110 200,1065L200,860Q420,930 605,1075L605,0Z" transform="translate(383.70 310.30) scale(0.00596 -0.00596)"/>
<text x="557.03" y="480.20" font-size="12.2" font-weight="bold" textLength="20.36" lengthAdjust="spacingAndGlyphs"> 00</text><path d="M855,0L855,1409L690,1409Q620,1290 470,1190Q340,1110 200,1065L200,860Q420,930 605,1075L605,0Z" transform="translate(557.03 480.20) scale(0.00596 -0.00596)"/>
<text x="431.78" y="498.50" font-size="13.6" font-weight="bold" textLength="116.75" lengthAdjust="spacingAndGlyphs"> 00% - Specificity%</text><path d="M855,0L855,1409L690,1409Q620,1290 470,1190Q340,1110 200,1065L200,860Q420,930 605,1075L605,0Z" transform="translate(431.78 498.50) scale(0.00611 -0.00664)"/>
<g transform="translate(376.55 383.15) rotate(-90)"><text x="-36.76" y="0.00" font-size="13.4" font-weight="bold" textLength="73.49" lengthAdjust="spacingAndGlyphs">Sensitivity%</text></g>
<polyline points="413.05,460.30 413.00,355.00 413.20,345.00 413.37,345.00 413.37,341.67 413.70,341.67 413.70,338.33 414.03,338.33 414.03,335.00 414.20,335.00 414.60,335.00 414.60,330.00 415.00,330.00 415.75,330.00 415.75,327.50 416.50,327.50 417.75,327.50 417.75,325.50 419.00,325.50 420.00,325.50 420.00,324.50 421.00,324.50 422.50,324.50 422.50,323.50 424.00,323.50 429.00,323.30 429.75,323.30 429.75,319.00 430.50,319.00 431.88,319.00 431.88,318.75 434.62,318.75 434.62,318.50 436.00,318.50 438.50,318.50 438.50,318.00 441.00,318.00 442.00,318.00 442.00,316.00 443.00,316.00 444.50,316.00 444.50,313.50 446.00,313.50 447.50,313.50 447.50,311.50 449.00,311.50 450.50,311.50 450.50,310.00 452.00,310.00 453.50,310.00 453.50,308.50 455.00,308.50 456.50,308.50 456.50,307.30 458.00,307.30 459.50,307.30 459.50,306.30 461.00,306.30 567.80,305.80" fill="none" stroke="#0033ff" stroke-width="4.00" stroke-linejoin="round" stroke-linecap="round"/>
<line x1="413.05" y1="458.70" x2="413.40" y2="358.00" stroke="#ff2200" stroke-width="2.60" stroke-linecap="round" stroke-dasharray="0.01 4.65"/>
<polyline points="413.40,358.00 413.52,358.00 413.52,355.12 413.76,355.12 413.76,352.24 414.00,352.24 414.00,349.36 414.24,349.36 414.24,346.48 414.48,346.48 414.48,343.60 414.60,343.60 415.05,343.60 415.05,340.00 415.50,340.00 415.75,340.00 415.75,337.00 416.00,337.00 416.50,337.00 416.50,333.00 417.00,333.00 417.25,333.00 417.25,330.00 417.50,330.00 418.25,330.00 418.25,329.00 419.00,329.00 420.00,329.00 420.00,328.00 421.00,328.00 422.50,328.00 422.50,326.50 424.00,326.50 425.50,326.50 425.50,325.00 427.00,325.00 428.50,325.00 428.50,324.00 430.00,324.00 432.00,324.00 432.00,323.50 434.00,323.50 436.00,323.50 436.00,322.50 438.00,322.50 438.50,322.50 438.50,321.00 439.00,321.00 441.00,321.00 441.00,320.00 443.00,320.00 444.00,320.00 444.00,318.50 445.00,318.50 446.00,318.50 446.00,317.50 447.00,317.50 457.90,317.40 458.55,317.40 458.55,315.80 459.20,315.80 462.50,315.80 463.15,315.80 463.15,311.80 463.80,311.80 465.45,311.80 465.45,311.50 467.10,311.50 467.60,311.50 467.60,308.90 468.10,308.90 482.20,308.90 482.85,308.90 482.85,306.00 483.50,306.00" fill="none" stroke="#ff2200" stroke-width="2.00" stroke-linejoin="round" stroke-linecap="round"/>
<polyline points="483.50,306.00 567.80,305.90" fill="none" stroke="#ff2200" stroke-width="2.00" stroke-linejoin="round" stroke-linecap="round"/>
<line x1="413.05" y1="458.70" x2="413.40" y2="372.00" stroke="#04f80c" stroke-width="2.10" stroke-linecap="butt" stroke-dasharray="9.2 2.2"/>
<polyline points="413.40,372.00 413.52,372.00 413.52,369.20 413.76,369.20 413.76,366.40 414.00,366.40 414.00,363.60 414.24,363.60 414.24,360.80 414.48,360.80 414.48,358.00 414.60,358.00 414.80,358.00 414.80,355.20 415.20,355.20 415.20,352.40 415.60,352.40 415.60,349.60 415.80,349.60 415.90,349.60 415.90,347.07 416.10,347.07 416.10,344.53 416.30,344.53 416.30,342.00 416.40,342.00 416.80,342.00 416.80,338.50 417.60,338.50 417.60,335.00 418.00,335.00 419.00,335.00 419.00,331.00 420.00,331.00 421.50,331.00 421.50,329.50 423.00,329.50 424.50,329.50 424.50,328.50 426.00,328.50 427.50,328.50 427.50,327.00 429.00,327.00 431.00,327.00 431.00,326.00 433.00,326.00 435.00,326.00 435.00,325.50 437.00,325.50 438.00,325.50 438.00,324.00 439.00,324.00 440.00,324.00 440.00,323.00 441.00,323.00 442.33,323.00 442.33,322.83 445.00,322.83 445.00,322.67 447.67,322.67 447.67,322.50 449.00,322.50 450.48,322.50 450.48,323.00 453.45,323.00 453.45,323.50 456.42,323.50 456.42,324.00 457.90,324.00 458.20,324.00 458.20,322.00 458.50,322.00 459.82,322.00 459.82,321.85 462.48,321.85 462.48,321.70 463.80,321.70 464.45,321.70 464.45,320.30 465.10,320.30 466.55,320.30 466.55,320.38 469.45,320.38 469.45,320.46 472.35,320.46 472.35,320.54 475.25,320.54 475.25,320.62 478.15,320.62 478.15,320.70 479.60,320.70 480.25,320.70 480.25,319.10 480.90,319.10 481.20,319.10 481.20,316.10 481.50,316.10 489.40,316.20 493.00,316.10 494.95,316.10 494.95,315.80 496.90,315.80 497.60,315.80 497.60,314.10 498.30,314.10 499.93,314.10 499.93,313.80 503.18,313.80 503.18,313.50 504.80,313.50 505.45,313.50 505.45,312.50 506.10,312.50 507.25,312.50 507.25,312.35 509.55,312.35 509.55,312.20 510.70,312.20 511.05,312.20 511.05,310.80 511.40,310.80 519.30,310.80 519.60,310.80 519.60,309.90 519.90,309.90 528.50,309.90 529.15,309.90 529.15,308.90 529.80,308.90 531.10,308.90 531.10,308.70 533.70,308.70 533.70,308.50 535.00,308.50 535.70,308.50 535.70,307.90 536.40,307.90 541.30,307.70 541.50,306.00" fill="none" stroke="#04f80c" stroke-width="2.10" stroke-linejoin="round" stroke-linecap="round"/>
<line x1="541.50" y1="306.00" x2="567.80" y2="305.90" stroke="#04f80c" stroke-width="2.10" stroke-linecap="butt" stroke-dasharray="9.2 2.2"/>
<line x1="413.05" y1="458.70" x2="413.40" y2="376.00" stroke="#fd9e20" stroke-width="1.60" stroke-linecap="butt" stroke-dasharray="6 1.9 1.2 1.9 1.2 1.9"/>
<polyline points="413.40,376.00 413.55,376.00 413.55,373.00 413.85,373.00 413.85,370.00 414.00,370.00 414.20,370.00 414.20,367.17 414.60,367.17 414.60,364.33 415.00,364.33 415.00,361.50 415.20,361.50 415.50,361.50 415.50,358.50 416.10,358.50 416.10,355.50 416.40,355.50 416.50,355.50 416.50,352.73 416.70,352.73 416.70,349.97 416.90,349.97 416.90,347.20 417.00,347.20 417.60,347.20 417.60,343.60 418.20,343.60 419.10,343.60 419.10,342.00 420.00,342.00 420.75,342.00 420.75,338.00 421.50,338.00 421.75,338.00 421.75,334.00 422.00,334.00 423.00,334.00 423.00,331.00 424.00,331.00 425.25,331.00 425.25,330.00 426.50,330.00 427.75,330.00 427.75,329.00 429.00,329.00 431.00,329.00 431.00,328.00 433.00,328.00 434.50,328.00 434.50,327.00 436.00,327.00 437.50,327.00 437.50,326.00 439.00,326.00 440.00,326.00 440.00,324.50 441.00,324.50 447.00,324.50 448.00,324.50 448.00,323.50 449.00,323.50 450.58,323.50 450.58,323.33 453.75,323.33 453.75,323.17 456.92,323.17 456.92,323.00 458.50,323.00 459.00,323.00 459.00,321.70 459.50,321.70 469.70,321.70 470.35,321.70 470.35,318.40 471.00,318.40 471.65,318.40 471.65,317.40 472.30,317.40 486.80,317.40 487.30,317.40 487.30,314.80 487.80,314.80 489.45,314.80 489.45,314.10 491.10,314.10 491.55,314.10 491.55,312.80 492.00,312.80 493.73,312.80 493.73,312.95 497.17,312.95 497.17,313.10 498.90,313.10 499.25,313.10 499.25,311.80 499.60,311.80 501.23,311.80 501.23,311.70 504.50,311.70 504.50,311.60 507.77,311.60 507.77,311.50 509.40,311.50 509.75,311.50 509.75,309.90 510.10,309.90 518.60,309.90 518.95,309.90 518.95,308.50 519.30,308.50 520.74,308.50 520.74,308.44 523.62,308.44 523.62,308.38 526.50,308.38 526.50,308.32 529.38,308.32 529.38,308.26 532.26,308.26 532.26,308.20 533.70,308.20 534.35,308.20 534.35,307.20 535.00,307.20 549.60,307.20 549.80,305.90" fill="none" stroke="#fd9e20" stroke-width="1.60" stroke-linejoin="round" stroke-linecap="round"/>
<line x1="549.80" y1="305.90" x2="567.80" y2="305.90" stroke="#fd9e20" stroke-width="1.60" stroke-linecap="butt" stroke-dasharray="6 1.9 1.2 1.9 1.2 1.9"/>
<line x1="413.65" y1="459.70" x2="567.05" y2="306.50" stroke="#cfcfcf" stroke-width="1.8" stroke-dasharray="5.6 2.0" stroke-linecap="butt"/>
<line x1="513.20" y1="377.00" x2="528.90" y2="377.00" stroke="#0033ff" stroke-width="4" stroke-linecap="round"/>
<line x1="512.80" y1="399.00" x2="528.20" y2="399.00" stroke="#ff2200" stroke-width="2.6" stroke-linecap="round" stroke-dasharray="0.01 4.65"/>
<line x1="511.90" y1="419.60" x2="530.20" y2="419.60" stroke="#04f80c" stroke-width="2.3" stroke-dasharray="9.2 2.2"/>
<line x1="512.10" y1="438.00" x2="530.20" y2="438.00" stroke="#fd9e20" stroke-width="1.9" stroke-dasharray="6 1.9 1.2 1.9 1.2 1.9"/>
<text x="538.62" y="381.00" font-size="12" fill="#1c1c1c" textLength="32.21" lengthAdjust="spacingAndGlyphs">fHMH</text>
<text x="573.83" y="381.00" font-size="12" fill="#1c1c1c" textLength="26.48" lengthAdjust="spacingAndGlyphs">(AUC</text>
<text x="602.29" y="381.00" font-size="12" fill="#1c1c1c" textLength="8.53" lengthAdjust="spacingAndGlyphs">=</text>
<text x="617.42" y="381.00" font-size="12" fill="#1c1c1c" textLength="35.05" lengthAdjust="spacingAndGlyphs">0.974)</text>
<text x="538.49" y="403.80" font-size="12" fill="#1c1c1c" textLength="35.64" lengthAdjust="spacingAndGlyphs">pHMH</text>
<text x="577.63" y="403.80" font-size="12" fill="#1c1c1c" textLength="26.28" lengthAdjust="spacingAndGlyphs">(AUC</text>
<text x="606.35" y="403.80" font-size="12" fill="#1c1c1c" textLength="7.81" lengthAdjust="spacingAndGlyphs">=</text>
<text x="620.70" y="403.80" font-size="12" fill="#1c1c1c" textLength="35.98" lengthAdjust="spacingAndGlyphs">0.959)</text>
<text x="538.52" y="423.30" font-size="12" fill="#1c1c1c" textLength="41.20" lengthAdjust="spacingAndGlyphs">Median</text>
<text x="582.41" y="423.30" font-size="12" fill="#1c1c1c" textLength="27.01" lengthAdjust="spacingAndGlyphs">(AUC</text>
<text x="611.31" y="423.30" font-size="12" fill="#1c1c1c" textLength="8.29" lengthAdjust="spacingAndGlyphs">=</text>
<text x="626.41" y="423.30" font-size="12" fill="#1c1c1c" textLength="35.57" lengthAdjust="spacingAndGlyphs">0.924)</text>
<text x="538.73" y="440.90" font-size="12" fill="#1c1c1c" textLength="64.31" lengthAdjust="spacingAndGlyphs">Single CpG</text>
<text x="605.33" y="440.90" font-size="12" fill="#1c1c1c" textLength="30.45" lengthAdjust="spacingAndGlyphs">(AUC</text>
<text x="639.24" y="440.90" font-size="12" fill="#1c1c1c" textLength="7.93" lengthAdjust="spacingAndGlyphs">=</text>
<text x="650.62" y="440.90" font-size="12" fill="#1c1c1c" textLength="34.74" lengthAdjust="spacingAndGlyphs">0.924)</text>
</svg></body></html>
